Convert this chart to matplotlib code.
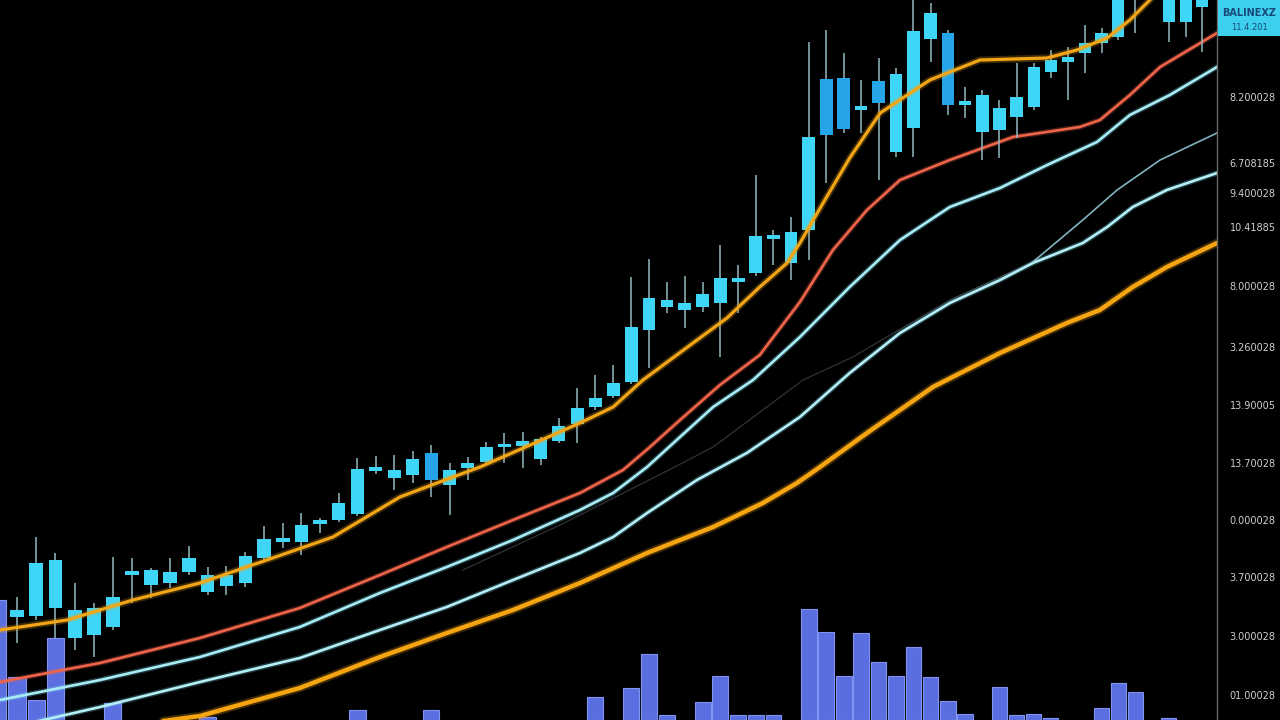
import numpy as np
import matplotlib
matplotlib.use("Agg")
import matplotlib.pyplot as plt
import matplotlib.patheffects as pe
from matplotlib.patches import Rectangle

# ---------------- data (price units, x = candle index) ----------------
opens = [103, 104, 112, 82, 85, 93, 145, 135, 137, 148, 128, 134, 137, 162, 178, 178,
         196, 200, 206, 249, 242, 245, 267, 235, 252, 258, 273, 274, 261, 279, 296, 313,
         324, 338, 390, 413, 410, 413, 417, 438, 447, 481, 457, 490, 641, 642, 610, 639,
         568, 592, 681, 687, 615, 588, 590, 603, 613, 648, 658, 667, 677, 683, 725, np.nan,
         698, 698, 713]
closes = [110, 157, 160, 110, 112, 123, 149, 150, 148, 162, 145, 145, 164, 181, 182, 195,
          200, 217, 251, 253, 250, 261, 240, 250, 257, 273, 276, 279, 281, 294, 312, 322,
          337, 393, 422, 420, 417, 426, 442, 442, 484, 485, 488, 583, 585, 591, 614, 617,
          646, 689, 707, 615, 619, 625, 612, 623, 653, 660, 663, 677, 687, 730, 745, np.nan,
          730, 725, 735]
highs = [123, 183, 167, 137, 117, 163, 162, 152, 162, 174, 153, 154, 168, 194, 197, 207,
         202, 227, 262, 264, 265, 269, 275, 257, 263, 278, 287, 288, 283, 302, 332, 345,
         355, 443, 461, 438, 444, 438, 475, 455, 545, 490, 503, 678, 690, 667, 640, 662,
         652, 725, 717, 690, 633, 630, 620, 657, 657, 670, 673, 695, 692, 740, 760, np.nan,
         740, 735, 745]
lows = [77, 100, 82, 70, 63, 90, 117, 122, 132, 145, 125, 125, 133, 160, 172, 165,
        187, 198, 204, 246, 230, 237, 223, 205, 240, 256, 257, 252, 255, 277, 277, 310,
        322, 336, 352, 407, 392, 408, 363, 407, 444, 455, 440, 460, 537, 587, 587, 540,
        563, 563, 658, 605, 602, 560, 562, 582, 610, 642, 620, 647, 667, 680, 687, np.nan,
        678, 683, 668]
# candle tone: 1 = light cyan, 0 = deeper blue
tone = [1] * 67
for k in (22, 44, 45, 47, 51):
    tone[k] = 0

vol_index = [-1, 0, 1, 2, 5, 10, 18, 22, 31, 33, 34, 35, 37, 38, 39, 40, 41, 43, 44, 45,
             46, 47, 48, 49, 50, 51, 52, 54, 55, 56, 57, 60, 61, 62, 64]
vol_values = [120, 43, 20, 82, 17, 3, 10, 10, 23, 32, 66, 5, 18, 44, 5, 5, 5, 111, 88, 44,
              87, 58, 44, 73, 43, 19, 6, 33, 5, 6, 2, 12, 37, 28, 2]

ma_fast_x = [-0.88, 2.60, 6.06, 9.59, 13.15, 16.69, 20.30, 22.31, 24.66, 27.41, 30.16, 32.0,
             33.66, 36.46, 38.37, 40.22, 41.77, 42.50, 43.92, 45.34, 47.09, 49.95, 52.86,
             56.79, 58.54, 60.33, 61.68, 62.87]
ma_fast_y = [90, 100, 120, 137, 160, 183, 223, 237, 253, 275, 297, 313, 340, 377, 402, 433,
             457, 477, 520, 562, 607, 640, 660, 662, 670, 682, 700, 720]

red_x = [-0.88, 4.33, 9.59, 14.91, 19.22, 22.85, 26.47, 30.16, 32.55, 34.05, 35.73, 37.97,
         40.22, 42.50, 44.38, 46.33, 48.23, 51.11, 54.79, 58.71, 59.90, 61.68, 63.48, 66.89]
red_y = [38, 57, 82, 112, 145, 173, 200, 227, 250, 273, 300, 335, 365, 418, 470, 510, 540,
         560, 583, 593, 600, 625, 653, 687]

cyan1_x = [-0.88, 4.33, 9.59, 14.91, 19.22, 22.85, 26.47, 30.16, 32.0, 33.89, 35.73, 37.59,
           39.84, 42.50, 45.34, 48.23, 51.11, 54.03, 56.79, 59.73, 61.68, 64.06, 66.89]
cyan1_y = [20, 40, 63, 93, 127, 153, 180, 210, 227, 253, 283, 313, 340, 383, 433, 480, 513,
           532, 555, 578, 605, 625, 653]

cyan2_x = [-0.88, 4.33, 9.59, 14.91, 19.22, 22.85, 26.47, 30.16, 32.0, 33.89, 36.68, 39.49,
           42.50, 45.34, 48.23, 51.11, 54.03, 55.95, 58.89, 60.33, 61.85, 63.88, 66.89]
cyan2_y = [-10, 13, 38, 62, 90, 113, 140, 167, 183, 207, 240, 267, 303, 347, 387, 417, 440,
           457, 477, 493, 513, 530, 547]

orange_x = [-0.88, 2.23, 9.59, 14.91, 19.22, 22.85, 26.47, 30.16, 33.89, 37.59, 40.40, 42.33,
            43.64, 46.33, 50.13, 54.03, 57.95, 59.90, 61.85, 63.88, 66.89]
orange_y = [-30, -15, 4, 32, 63, 87, 110, 137, 167, 193, 217, 237, 253, 287, 333, 367, 397,
            410, 433, 453, 477]

thin_x = [23.72, 29.06, 34.78, 37.59, 42.68, 45.52, 51.11, 55.95, 58.89, 60.92, 63.48, 66.89]
thin_y = [150, 195, 247, 273, 340, 363, 420, 458, 500, 530, 560, 587]

tick_values = [623, 557, 527, 493, 434, 373, 315, 257, 200, 143, 84, 25]
tick_labels = ["8.200028", "6.708185", "9.400028", "10.41885", "8.000028", "3.260028",
               "13.90005", "13.70028", "0.000028", "3.700028", "3.000028", "01.00028"]
badge_lines = ["BALINEXZ", "11.4.201"]

# ---------------- figure ----------------
fig = plt.figure(figsize=(12.8, 7.2), dpi=100, facecolor="black")
ax = fig.add_axes([0, 0, 1217 / 1280, 1])
ax.set_facecolor("black")

# candle spacing narrows slightly to the right (perspective-like time axis)
_A, _B, _C = 17.0, 19.26, -0.01974


def _fwd(i):
    i = np.asarray(i, float)
    return _A + _B * i + _C * i * i


def _inv(p):
    p = np.asarray(p, float)
    disc = np.clip(_B * _B + 4 * _C * (p - _A), 1e-9, None)
    return (-_B + np.sqrt(disc)) / (2 * _C)


ax.set_xscale("function", functions=(_fwd, _inv))
ax.set_xlim(-0.883, 66.89)
ax.set_ylim(0, 720)

# volume
ax.bar(vol_index, vol_values, width=0.9, bottom=0, color="#5b6ee0",
       edgecolor="#8193f2", linewidth=0.8, zorder=1)


def glow(w, c):
    return [pe.Stroke(linewidth=w, foreground=c, alpha=0.25), pe.Normal()]


# moving-average style lines
ax.plot(orange_x, orange_y, color="#f5a412", lw=3.2, zorder=2,
        path_effects=glow(6, "#f5a412"), solid_capstyle="round")
ax.plot(cyan2_x, cyan2_y, color="#b4eef6", lw=1.9, zorder=2,
        path_effects=glow(4, "#7fdcef"))
ax.plot(thin_x[:8], thin_y[:8], color="#9aaab0", lw=0.9, alpha=0.3, zorder=2)
ax.plot(thin_x[7:], thin_y[7:], color="#8fc8d4", lw=1.2, alpha=0.9, zorder=2)
ax.plot(cyan1_x, cyan1_y, color="#a8ecf6", lw=1.9, zorder=2,
        path_effects=glow(4, "#7fdcef"))
ax.plot(red_x, red_y, color="#f0644a", lw=1.9, zorder=2,
        path_effects=glow(4, "#f0644a"))

# candles
idx = np.arange(len(opens))
o = np.array(opens, float)
c = np.array(closes, float)
h = np.array(highs, float)
l = np.array(lows, float)
ok = ~np.isnan(o)
ax.vlines(idx[ok], l[ok], h[ok], color="#93b8c2", lw=1.1, zorder=3)
body_lo = np.minimum(o, c)
body_h = np.maximum(np.abs(c - o), 3)
cols = ["#3fd5f6" if t else "#25a4ea" for t in tone]
ax.bar(idx[ok], body_h[ok], bottom=body_lo[ok], width=0.72,
       color=[cols[i] for i in idx[ok]], edgecolor="none", zorder=4)

# fast MA on top of candles
ax.plot(ma_fast_x, ma_fast_y, color="#f2a516", lw=2.3, zorder=5,
        path_effects=glow(5, "#f2a516"))

# axis styling
for s in ("top", "left", "bottom"):
    ax.spines[s].set_visible(False)
ax.spines["right"].set_color("#6a6a6a")
ax.spines["right"].set_linewidth(1.0)
ax.set_xticks([])
ax.xaxis.set_minor_locator(matplotlib.ticker.NullLocator())
ax.yaxis.tick_right()
ax.set_yticks(tick_values)
ax.set_yticklabels(tick_labels)
ax.tick_params(axis="y", length=0, pad=9, labelsize=7, labelcolor="#cfcfcf")

# badge at top right
fig.patches.append(Rectangle((1218 / 1280, 1 - 36 / 720), 62 / 1280, 36 / 720,
                             transform=fig.transFigure, facecolor="#3ccfee",
                             edgecolor="none"))
fig.text(1249 / 1280, 1 - 13 / 720, badge_lines[0], ha="center", va="center",
         fontsize=7, color="#174a78", fontweight="bold")
fig.text(1249 / 1280, 1 - 27 / 720, badge_lines[1], ha="center", va="center",
         fontsize=6, color="#174a78")

fig.savefig("out.png", dpi=100, facecolor="black")
